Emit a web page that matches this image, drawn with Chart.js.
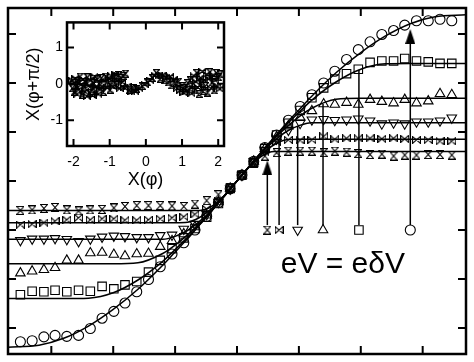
<!DOCTYPE html>
<html>
<head>
<meta charset="utf-8">
<script src="https://cdn.jsdelivr.net/npm/chart.js@4.4.0/dist/chart.umd.min.js"></script>
<style>
html, body { margin: 0; padding: 0; background: #fff; }
#wrap { position: relative; width: 474px; height: 362px; }
#main { position: absolute; left: 0; top: 0; }
#inset { position: absolute; left: 20px; top: 10px; }
</style>
</head>
<body>
<div id="wrap">
  <canvas id="main" width="474" height="362"></canvas>
  <canvas id="inset" width="215" height="188"></canvas>
</div>
<script>
// measured points (same x grid for every series)
var markerX = [-3.50, -3.31, -3.12, -2.94, -2.75, -2.56, -2.37, -2.18, -1.99, -1.81, -1.62, -1.43, -1.24, -1.05, -0.86, -0.68, -0.49, -0.30, -0.11, 0.08,
               0.27, 0.45, 0.64, 0.83, 1.02, 1.21, 1.40, 1.58, 1.77, 1.96, 2.15, 2.34, 2.53, 2.71, 2.90, 3.09, 3.28, 3.47];
var circleY = [-3.28, -3.26, -3.18, -3.15, -3.17, -3.15, -3.01, -2.80, -2.66, -2.49, -2.26, -2.01, -1.75, -1.49, -1.26, -1.00, -0.72, -0.44, -0.16, 0.12,
               0.40, 0.68, 0.94, 1.24, 1.52, 1.76, 2.00, 2.24, 2.48, 2.68, 2.84, 2.99, 3.07, 3.18, 3.27, 3.27, 3.30, 3.27];
var squareY = [-2.32, -2.25, -2.26, -2.23, -2.26, -2.23, -2.25, -2.15, -2.20, -2.12, -2.05, -1.86, -1.62, -1.38, -1.16, -0.97, -0.74, -0.46, -0.15, 0.12,
               0.38, 0.66, 0.94, 1.18, 1.44, 1.70, 1.90, 2.08, 2.19, 2.28, 2.42, 2.45, 2.45, 2.50, 2.45, 2.43, 2.40, 2.40];
var triUpY = [-1.88, -1.84, -1.81, -1.77, -1.62, -1.62, -1.47, -1.46, -1.50, -1.53, -1.49, -1.48, -1.34, -1.22, -1.08, -0.94, -0.70, -0.43, -0.15, 0.12,
              0.40, 0.66, 0.90, 1.12, 1.30, 1.43, 1.57, 1.56, 1.60, 1.56, 1.66, 1.62, 1.59, 1.66, 1.59, 1.63, 1.78, 1.76];
var triDownY = [-1.21, -1.18, -1.18, -1.17, -1.19, -1.23, -1.18, -1.14, -1.12, -1.13, -1.15, -1.15, -1.11, -1.10, -0.98, -0.88, -0.68, -0.43, -0.16, 0.12,
                0.40, 0.63, 0.86, 1.04, 1.18, 1.25, 1.26, 1.24, 1.25, 1.27, 1.23, 1.17, 1.19, 1.17, 1.21, 1.21, 1.23, 1.29];
var bowtieY = [-0.89, -0.88, -0.85, -0.82, -0.79, -0.75, -0.79, -0.77, -0.77, -0.80, -0.80, -0.79, -0.77, -0.75, -0.73, -0.68, -0.57, -0.40, -0.15, 0.12,
               0.38, 0.60, 0.80, 0.84, 0.83, 0.84, 0.91, 0.85, 0.87, 0.87, 0.87, 0.86, 0.87, 0.86, 0.84, 0.84, 0.81, 0.81];
var hourglassY = [-0.60, -0.59, -0.56, -0.54, -0.59, -0.61, -0.59, -0.58, -0.55, -0.52, -0.50, -0.50, -0.50, -0.51, -0.52, -0.47, -0.40, -0.28, -0.13, 0.12,
                  0.36, 0.51, 0.58, 0.61, 0.61, 0.61, 0.58, 0.61, 0.59, 0.56, 0.54, 0.55, 0.51, 0.53, 0.53, 0.54, 0.54, 0.53];

// fitted curves
var curveX = [-3.7, -3.2, -2.8, -2.4, -2.0, -1.6, -1.2, -1.0, -0.8, -0.6, -0.4, -0.2, 0, 0.2, 0.4, 0.6, 0.8, 1.0, 1.2, 1.6, 2.0, 2.4, 2.8, 3.2, 3.7];
var circleFit = [-3.39, -3.35, -3.21, -2.96, -2.62, -2.21, -1.72, -1.45, -1.18, -0.89, -0.60, -0.30, 0, 0.30, 0.60, 0.89, 1.18, 1.45, 1.72, 2.21, 2.62, 2.96, 3.21, 3.35, 3.39];
var squareFit = [-2.40, -2.40, -2.40, -2.39, -2.28, -2.02, -1.64, -1.40, -1.15, -0.88, -0.59, -0.30, 0, 0.30, 0.59, 0.88, 1.15, 1.40, 1.64, 2.02, 2.28, 2.39, 2.40, 2.40, 2.40];
var triUpFit = [-1.69, -1.69, -1.69, -1.69, -1.69, -1.67, -1.48, -1.31, -1.10, -0.86, -0.59, -0.30, 0, 0.30, 0.59, 0.86, 1.10, 1.31, 1.48, 1.67, 1.69, 1.69, 1.69, 1.69, 1.69];
var triDownFit = [-1.19, -1.19, -1.19, -1.19, -1.19, -1.19, -1.19, -1.13, -1.01, -0.82, -0.58, -0.30, 0, 0.30, 0.58, 0.82, 1.01, 1.13, 1.19, 1.19, 1.19, 1.19, 1.19, 1.19, 1.19];
var bowtieFit = [-0.85, -0.85, -0.85, -0.85, -0.85, -0.85, -0.85, -0.85, -0.84, -0.74, -0.55, -0.29, 0, 0.29, 0.55, 0.74, 0.84, 0.85, 0.85, 0.85, 0.85, 0.85, 0.85, 0.85, 0.85];
var hourglassFit = [-0.60, -0.60, -0.60, -0.60, -0.60, -0.60, -0.60, -0.60, -0.60, -0.60, -0.51, -0.29, 0, 0.29, 0.51, 0.60, 0.60, 0.60, 0.60, 0.60, 0.60, 0.60, 0.60, 0.60, 0.60];

// pointer lines: hourglass, bowtie, triangle down, triangle up, square, circle
var pointerX = [0.49, 0.68, 0.98, 1.39, 1.97, 2.80];
var pointerTop = [0.14, 0.84, 1.12, 1.57, 2.27, 2.84];
var pointerBottom = -0.90;
var glyphY = -1.0;
var arrowX = [0.49, 2.80];
var arrowY = [0.27, 2.95];
var eqText = 'eV = eδV';
var eqX = 1.71;
var eqY = -1.71;

var mainTicksX = [-3, -2, -1, 0, 1, 2, 3];
var mainTicksY = [-3, -2, -1, 0, 1, 2, 3];

// inset
var insetTicksX = [-2, -1, 0, 1, 2];
var insetTicksY = [-1, 0, 1];
var insetX = [-2.04, -2.03, -2.00, -1.98, -1.95, -1.92, -1.90, -1.87, -1.84, -1.82, -1.79, -1.76, -1.74, -1.71, -1.68, -1.66, -1.63, -1.61,
              -1.58, -1.55, -1.53, -1.50, -1.47, -1.45, -1.42, -1.40, -1.37, -1.34, -1.31, -1.29, -1.26, -1.23, -1.20, -1.17, -1.14, -1.11,
              -1.08, -1.05, -1.02, -0.99, -0.96, -0.93, -0.90, -0.87, -0.84, -0.81, -0.78, -0.75, -0.72, -0.69, -0.66, -0.63, -0.60, -0.56,
              -0.50, -0.45, -0.40, -0.35, -0.30, -0.25, -0.18, -0.10, -0.03, 0.05, 0.12, 0.18, 0.24, 0.29, 0.35, 0.40, 0.46, 0.52,
              0.57, 0.62, 0.67, 0.72, 0.77, 0.82, 0.86, 0.90, 0.95, 1.00, 1.04, 1.08, 1.12, 1.16,
              1.20, 1.23, 1.26, 1.29, 1.32, 1.35, 1.38, 1.41, 1.44, 1.47, 1.50, 1.53, 1.56, 1.59, 1.62, 1.65, 1.68, 1.71,
              1.74, 1.77, 1.80, 1.83, 1.86, 1.89, 1.92, 1.95, 1.98, 2.01, 2.04, 2.05];
var insetY = [0.10, -0.12, 0.02, -0.22, 0.15, -0.05, -0.28, 0.08, -0.15, 0.20, -0.02, -0.30, 0.12, -0.10, -0.22, 0.05, -0.34, 0.18,
              -0.05, -0.25, 0.10, -0.15, -0.32, 0.02, 0.20, -0.20, -0.08, 0.12, -0.28, 0.00, -0.15, 0.16, -0.06, -0.22, 0.08, 0.20,
              -0.10, -0.02, 0.14, -0.16, 0.22, 0.04, -0.08, 0.18, 0.26, -0.04, 0.10, 0.24, -0.12, 0.16, 0.05, 0.22, -0.10, 0.28,
              -0.06, -0.16, -0.22, -0.12, -0.20, -0.14, -0.12, -0.06, -0.02, 0.04, 0.10, 0.16, 0.24, 0.30, 0.22, 0.14, 0.24, 0.10,
              0.18, 0.04, 0.20, -0.04, 0.12, 0.02, -0.12, 0.06, -0.18, -0.06, -0.24, -0.12, -0.20, 0.02,
              -0.14, 0.10, -0.26, -0.02, 0.22, -0.18, 0.06, 0.30, -0.10, -0.28, 0.16, 0.02, 0.34, -0.20, 0.10, -0.06, 0.26, -0.24,
              0.14, 0.32, -0.12, 0.04, 0.24, -0.18, 0.10, 0.30, -0.06, 0.18, -0.14, 0.26];

function makeGlyph(kind, w, h, lw) {
    var c = document.createElement('canvas');
    c.width = w;
    c.height = h;
    var g = c.getContext('2d');
    g.strokeStyle = '#000';
    g.fillStyle = '#000';
    g.lineWidth = lw || 1;
    var m = (lw || 1) / 2;
    var l = m, t = m, r = w - m, b = h - m;
    g.beginPath();
    if (kind === 'bowtie') {
        g.moveTo(l, t); g.lineTo(r, b); g.lineTo(r, t); g.lineTo(l, b);
    } else if (kind === 'hourglass') {
        g.moveTo(l, t); g.lineTo(r, t); g.lineTo(l, b); g.lineTo(r, b);
    } else {
        g.moveTo(w / 2, 0); g.lineTo(w, h); g.lineTo(0, h);
    }
    g.closePath();
    if (kind === 'arrow') g.fill(); else g.stroke();
    return c;
}

var bowtieImg = makeGlyph('bowtie', 9, 8, 1.1);
var hourglassImg = makeGlyph('hourglass', 8, 9, 1.1);
var arrowImg = makeGlyph('arrow', 10, 15);
var bowtieSmall = makeGlyph('bowtie', 8, 7, 1.3);
var hourglassSmall = makeGlyph('hourglass', 7, 8, 1.3);

function pts(xs, ys) {
    return xs.map(function (x, i) { return {x: x, y: ys[i]}; });
}

function markerSet(ys, style, radius, rotation) {
    return {
        type: 'scatter',
        data: pts(markerX, ys),
        pointStyle: style,
        pointRadius: radius,
        rotation: rotation || 0,
        borderColor: '#000',
        backgroundColor: 'rgba(0,0,0,0)',
        borderWidth: 1.1
    };
}

function fitSet(ys) {
    return {
        type: 'line',
        data: pts(curveX, ys),
        borderColor: '#000',
        borderWidth: 1.5,
        pointRadius: 0,
        cubicInterpolationMode: 'monotone',
        fill: false
    };
}

var framePlugin = {
    id: 'frame',
    afterDraw: function (chart, args, opts) {
        var ctx = chart.ctx;
        var a = chart.chartArea;
        var sx = chart.scales.x, sy = chart.scales.y;
        ctx.save();
        ctx.strokeStyle = '#000';
        ctx.lineWidth = opts.tickWidth;
        ctx.beginPath();
        opts.xTicks.forEach(function (v) {
            var px = sx.getPixelForValue(v);
            ctx.moveTo(px, a.bottom); ctx.lineTo(px, a.bottom - opts.tickLen);
            ctx.moveTo(px, a.top); ctx.lineTo(px, a.top + opts.tickLen);
        });
        opts.yTicks.forEach(function (v) {
            var py = sy.getPixelForValue(v);
            ctx.moveTo(a.left, py); ctx.lineTo(a.left + opts.tickLen, py);
            ctx.moveTo(a.right, py); ctx.lineTo(a.right - opts.tickLen, py);
        });
        ctx.stroke();
        ctx.lineWidth = opts.borderWidth;
        ctx.strokeRect(a.left, a.top, a.right - a.left, a.bottom - a.top);
        if (opts.text) {
            ctx.fillStyle = '#000';
            ctx.font = opts.textFont;
            ctx.textAlign = 'center';
            ctx.textBaseline = 'middle';
            ctx.fillText(opts.text, sx.getPixelForValue(opts.textX), sy.getPixelForValue(opts.textY));
        }
        ctx.restore();
    }
};

var datasets = [
    fitSet(circleFit), fitSet(squareFit), fitSet(triUpFit), fitSet(triDownFit), fitSet(bowtieFit), fitSet(hourglassFit),
    markerSet(circleY, 'circle', 5),
    markerSet(squareY, 'rect', 6),
    markerSet(triUpY, 'triangle', 5.5),
    markerSet(triDownY, 'triangle', 5.5, 180),
    markerSet(bowtieY, bowtieImg, 5),
    markerSet(hourglassY, hourglassImg, 5)
];

pointerX.forEach(function (x, i) {
    datasets.push({
        type: 'line',
        data: [{x: x, y: pointerBottom}, {x: x, y: pointerTop[i]}],
        borderColor: '#000',
        borderWidth: 1.5,
        pointRadius: 0,
        tension: 0
    });
});

datasets.push({
    type: 'scatter',
    data: pointerX.map(function (x) { return {x: x, y: glyphY}; }),
    pointStyle: [hourglassImg, bowtieImg, 'triangle', 'triangle', 'rect', 'circle'],
    rotation: [0, 0, 180, 0, 0, 0],
    pointRadius: [5, 5, 5.5, 5.5, 6, 5],
    borderColor: '#000',
    backgroundColor: 'rgba(0,0,0,0)',
    borderWidth: 1.1
});

datasets.push({
    type: 'scatter',
    data: pts(arrowX, arrowY),
    pointStyle: arrowImg,
    pointRadius: 7,
    borderColor: '#000',
    backgroundColor: '#000'
});

new Chart(document.getElementById('main'), {
    type: 'scatter',
    data: {datasets: datasets},
    options: {
        responsive: false,
        animation: false,
        events: [],
        layout: {padding: {left: 3, right: 3, top: 1.5, bottom: 2}},
        plugins: {
            legend: {display: false},
            tooltip: {enabled: false},
            frame: {
                xTicks: mainTicksX, yTicks: mainTicksY, tickLen: 8, tickWidth: 2, borderWidth: 2.5,
                text: eqText, textX: eqX, textY: eqY, textFont: '30px "Liberation Sans", Arial, sans-serif'
            }
        },
        scales: {
            x: {type: 'linear', min: -3.7, max: 3.7, display: false},
            y: {type: 'linear', min: -3.53, max: 3.53, display: false}
        }
    },
    plugins: [framePlugin]
});

var tickFont = {family: '"Liberation Sans", Arial, sans-serif', size: 14};
var titleFont = {family: '"Liberation Sans", Arial, sans-serif', size: 18};

new Chart(document.getElementById('inset'), {
    type: 'scatter',
    data: {
        datasets: [{
            data: pts(insetX, insetY),
            pointStyle: insetX.map(function (_, i) { return i % 2 ? hourglassSmall : bowtieSmall; }),
            pointRadius: 4,
            borderColor: '#000',
            backgroundColor: 'rgba(0,0,0,0)'
        }]
    },
    options: {
        responsive: false,
        animation: false,
        events: [],
        layout: {padding: {left: 0, right: 11, top: 5, bottom: 0}},
        plugins: {
            legend: {display: false},
            tooltip: {enabled: false},
            frame: {xTicks: insetTicksX, yTicks: insetTicksY, tickLen: 7, tickWidth: 2, borderWidth: 2.5}
        },
        scales: {
            x: {
                type: 'linear', min: -2.18, max: 2.16,
                afterBuildTicks: function (s) { s.ticks = insetTicksX.map(function (v) { return {value: v}; }); },
                afterFit: function (s) { s.height = 52; },
                grid: {display: false, drawTicks: false},
                border: {display: false},
                ticks: {color: '#000', font: tickFont, padding: 8, maxRotation: 0},
                title: {display: true, text: 'X(φ)', color: '#000', font: titleFont, padding: {top: 0, bottom: 7}}
            },
            y: {
                type: 'linear', min: -1.71, max: 1.69,
                afterBuildTicks: function (s) { s.ticks = insetTicksY.map(function (v) { return {value: v}; }); },
                afterFit: function (s) { s.width = 47; },
                grid: {display: false, drawTicks: false},
                border: {display: false},
                ticks: {color: '#000', font: tickFont, padding: 4},
                title: {display: true, text: 'X(φ+π/2)', color: '#000', font: titleFont, padding: {top: 3, bottom: 0}}
            }
        }
    },
    plugins: [framePlugin]
});
</script>
</body>
</html>
